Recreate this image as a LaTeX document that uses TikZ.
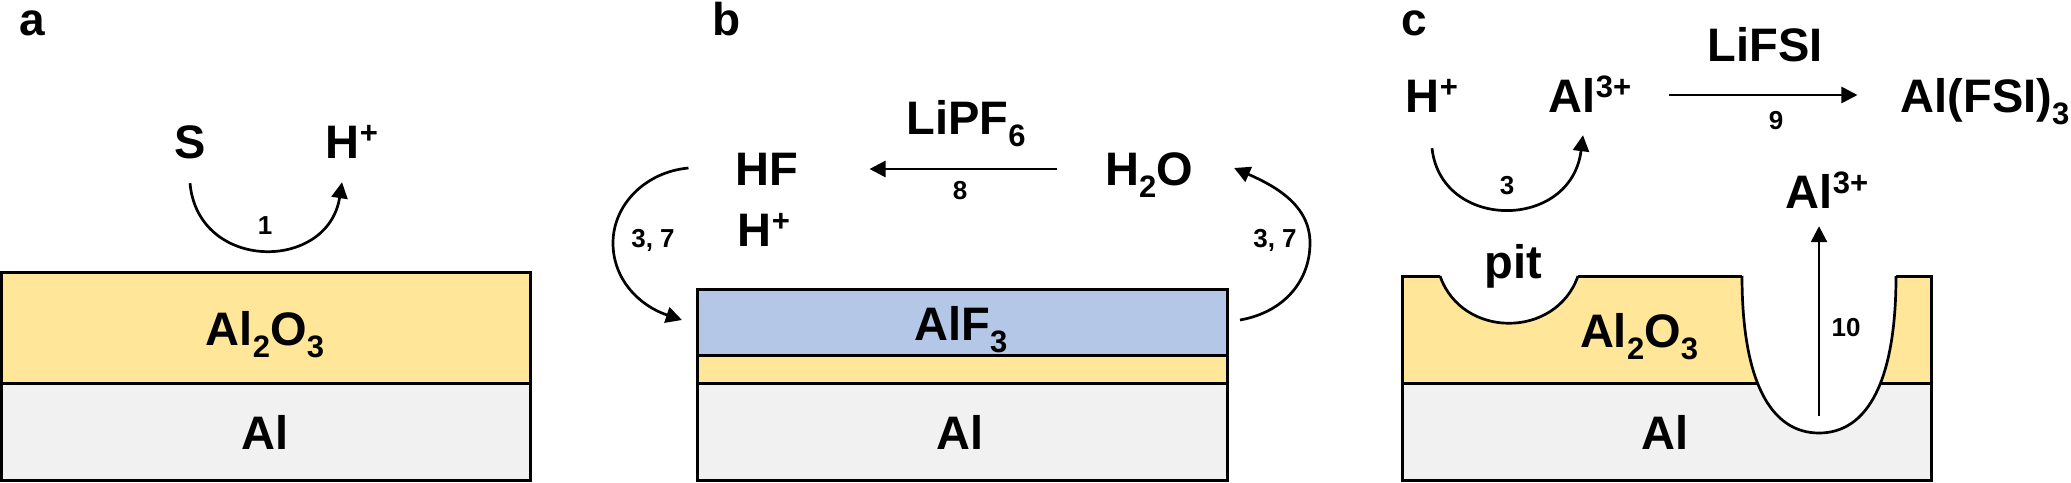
\documentclass[tikz,border=0pt]{standalone}
\usepackage{fontspec}
\setmainfont{Liberation Sans}
\usepackage{xcolor}
\usetikzlibrary{arrows.meta, positioning}
\definecolor{oxide}{HTML}{FFE699}
\definecolor{fluoride}{HTML}{B4C7E7}
\definecolor{metal}{HTML}{F1F1F1}
\newcommand{\chemlow}[1]{\raisebox{-12pt}{\fontsize{31}{31}\selectfont #1}}
\newcommand{\chemhigh}[1]{\raisebox{15pt}{\fontsize{31}{31}\selectfont #1}}
\tikzset{
    layer/.style={rectangle, draw, line width=3pt, inner sep=0pt, outer sep=0pt},
    chem/.style={inner sep=0pt, anchor=base, text height=34pt, text depth=14pt, font=\fontsize{47}{47}\selectfont\bfseries},
    panel/.style={inner sep=0pt, anchor=base, font=\fontsize{46}{46}\selectfont\bfseries},
    tiny/.style={inner sep=0pt, font=\fontsize{26}{26}\selectfont\bfseries},
    arrow/.style={-{Triangle[length=16pt, width=16pt]}, line width=2.7pt},
    pitline/.style={line width=2.7pt}
}
\begin{document}
\begin{tikzpicture}[x=1pt, y=-1pt]
    \useasboundingbox (0,0) rectangle (2071,482);

    % panel a
    \node (aOxide) [layer, fill=oxide, minimum width=528.5pt, minimum height=111pt, anchor=north west] at (1.5,272) {};
    \node (aMetal) [layer, fill=metal, minimum width=528.5pt, minimum height=97pt, below=0pt of aOxide] {};
    \node (aTag) [panel] at (32,35) {a};
    \node (aS) [chem] at (190,158) {S};
    \node (aH) [chem] at (352,158) {H\chemhigh{+}};
    \node (aOxideText) [chem] at (265,345) {Al\chemlow{2}O\chemlow{3}};
    \node (aMetalText) [chem] at (265,449) {Al};
    \node (aStep) [tiny] at (265,226) {1};
    \draw[arrow] ([yshift=-11pt]aS.south) .. controls (198,272) and (328,272) .. ([shift={(-10pt,-10pt)}]aH.south);

    % panel b
    \node (bFluoride) [layer, fill=fluoride, minimum width=530pt, minimum height=66pt, anchor=north west] at (697,289) {};
    \node (bOxide) [layer, fill=oxide, minimum width=530pt, minimum height=28pt, below=0pt of bFluoride] {};
    \node (bMetal) [layer, fill=metal, minimum width=530pt, minimum height=97pt, below=0pt of bOxide] {};
    \node (bTag) [panel] at (727,35) {b};
    \node (bSalt) [chem] at (966,134) {LiPF\chemlow{6}};
    \node (bHF) [chem] at (767,185) {HF};
    \node (bH) [chem] at (764,246) {H\chemhigh{+}};
    \node (bWater) [chem] at (1149,185) {H\chemlow{2}O};
    \node (bFluorideText) [chem] at (961,340) {AlF\chemlow{3}};
    \node (bMetalText) [chem] at (960,449) {Al};
    \node (bStep) [tiny] at (960,191) {8};
    \node (bLeftStep) [tiny] at (653,240) {3, 7};
    \node (bRightStep) [tiny] at (1275,240) {3, 7};
    \draw[arrow, shorten <=48pt, shorten >=71pt] ([yshift=6pt]bWater.west) -- ([yshift=6pt]bHF.east);
    \draw[arrow] ([shift={(-47pt,7pt)}]bHF.west) .. controls (645,172) and (613,205) .. (613,243) .. controls (613,280) and (640,306) .. ([shift={(-15pt,2pt)}]bFluoride.west);
    \draw[arrow] ([shift={(13pt,2pt)}]bFluoride.east) .. controls (1285,312) and (1310,280) .. (1310,243) .. controls (1310,205) and (1275,186) .. ([shift={(41pt,7pt)}]bWater.east);

    % panel c
    \node (cOxide) [layer, fill=oxide, minimum width=529pt, minimum height=107pt, anchor=north west] at (1402,276) {};
    \node (cMetal) [layer, fill=metal, minimum width=529pt, minimum height=97pt, below=0pt of cOxide] {};
    \fill[white] (1440,274) -- (1440,276) .. controls (1462,339) and (1556,339) .. (1578,276) -- (1578,274) -- cycle;
    \draw[pitline] (1440,276) .. controls (1462,339) and (1556,339) .. (1578,276);
    \fill[white] (1742,274) -- (1742,276) .. controls (1742,380) and (1770,433) .. (1819,433) .. controls (1868,433) and (1896,380) .. (1896,276) -- (1896,274) -- cycle;
    \draw[pitline] (1742,276) .. controls (1742,380) and (1770,433) .. (1819,433) .. controls (1868,433) and (1896,380) .. (1896,276);
    \node (cTag) [panel] at (1414,35) {c};
    \node (cSalt) [chem] at (1765,61) {LiFSI};
    \node (cH) [chem] at (1432,112) {H\chemhigh{+}};
    \node (cAl) [chem] at (1590,112) {Al\chemhigh{3+}};
    \node (cComplex) [chem] at (1985,112) {Al(FSI)\chemlow{3}};
    \node (cAlUp) [chem] at (1827,208) {Al\chemhigh{3+}};
    \node (cPit) [chem] at (1513,278) {pit};
    \node (cOxideText) [chem] at (1639,347) {Al\chemlow{2}O\chemlow{3}};
    \node (cMetalText) [chem] at (1665,449) {Al};
    \node (cStep) [tiny] at (1507,186) {3};
    \node (cStepNine) [tiny] at (1776,121) {9};
    \node (cStepTen) [tiny] at (1846,328) {10};
    \coordinate (cPitBottom) at (1819,416);
    \draw[arrow] ([yshift=-22pt]cH.south) .. controls (1441,231) and (1571,231) .. ([shift={(-7pt,-9pt)}]cAl.south);
    \draw[arrow, shorten <=38pt, shorten >=43pt] ([yshift=7pt]cAl.east) -- ([yshift=7pt]cComplex.west);
    \draw[arrow, shorten >=4pt] (cPitBottom) -- (cPitBottom |- cAlUp.south);
\end{tikzpicture}
\end{document}
